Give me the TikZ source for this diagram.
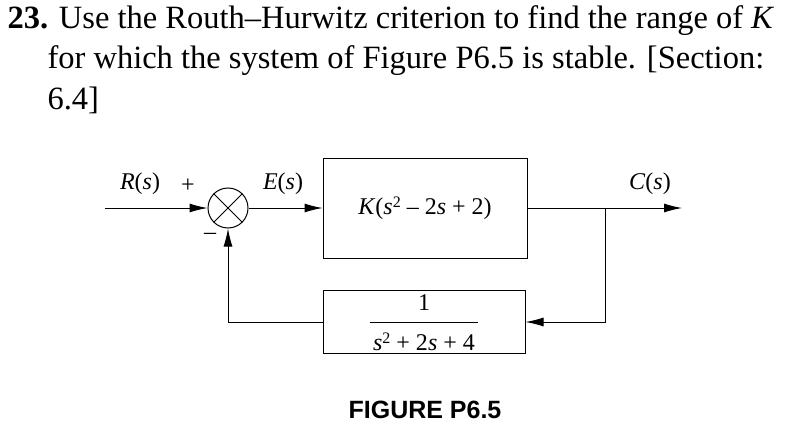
\documentclass[tikz,border=0pt]{standalone}
\usepackage{fontspec}
\setmainfont{Liberation Serif}
\setsansfont{Liberation Sans}
\usetikzlibrary{arrows.meta}
\newcommand{\vi}[1]{\textit{#1}}
\newcommand{\sqq}{\raisebox{0.6ex}{\fontsize{16}{16}\selectfont 2}}
\begin{document}
\begin{tikzpicture}[x=1pt,y=-1pt,
  blk/.style={draw,line width=1pt,inner sep=0pt},
  sig/.style={line width=1pt,-{Latex[length=18pt,width=9pt]}},
  ln/.style={line width=1pt},
  lab/.style={font=\fontsize{24}{26}\selectfont}]
\useasboundingbox (0,0) rectangle (788,439);
\node[anchor=west,font=\fontsize{32.5}{34}\selectfont] (l1) at (4,21) {\textbf{23.} Use the Routh–Hurwitz criterion to find the range of \textit{K}};
\node[anchor=west,font=\fontsize{32.5}{34}\selectfont] (l2) at (44,61) {for which the system of Figure P6.5 is stable. [Section:};
\node[anchor=west,font=\fontsize{32.5}{34}\selectfont] (l3) at (44,100) {6.4]};
\node[blk,minimum width=204pt,minimum height=100pt] (g) at (425,208) {};
\node[lab] (gt) at (425,208) {\vi{K}(\vi{s}\sqq{} – 2\vi{s} + 2)};
\node[blk,minimum width=202pt,minimum height=63pt] (h) at (424,322) {};
\node[lab] (hn) at (424,303) {1};
\node[lab] (hd) at (424,342) {\vi{s}\sqq{} + 2\vi{s} + 4};
\draw[line width=0.8pt] (hd.west|-h.center) -- (hd.east|-h.center);
\node[draw,circle,line width=1pt,minimum size=40pt,inner sep=0pt] (sum) at (228,208) {};
\draw[ln] (sum.45)--(sum.225) (sum.135)--(sum.315);
\coordinate (in) at (105,208);
\coordinate (out) at (682,208);
\coordinate (br) at (605,208);
\coordinate (b1) at (605,322);
\coordinate (b2) at (228,322);
\draw[sig] (in)--(sum.west);
\draw[sig] (sum.east)--(g.west);
\draw[sig] (g.east)--(out);
\draw[sig] (br)--(b1)--(h.east);
\draw[sig] (h.west)--(b2)--(sum.south);
\node[lab] (r) at (140,184) {\vi{R}(\vi{s})};
\node[lab] (p) at (188,186) {+};
\node[lab] (m) at (210,236) {–};
\node[lab] (e) at (283,184) {\vi{E}(\vi{s})};
\node[lab] (c) at (650,184) {\vi{C}(\vi{s})};
\node[font=\sffamily\bfseries\fontsize{25}{27}\selectfont] (f) at (425,410) {FIGURE P6.5};
\end{tikzpicture}
\end{document}
